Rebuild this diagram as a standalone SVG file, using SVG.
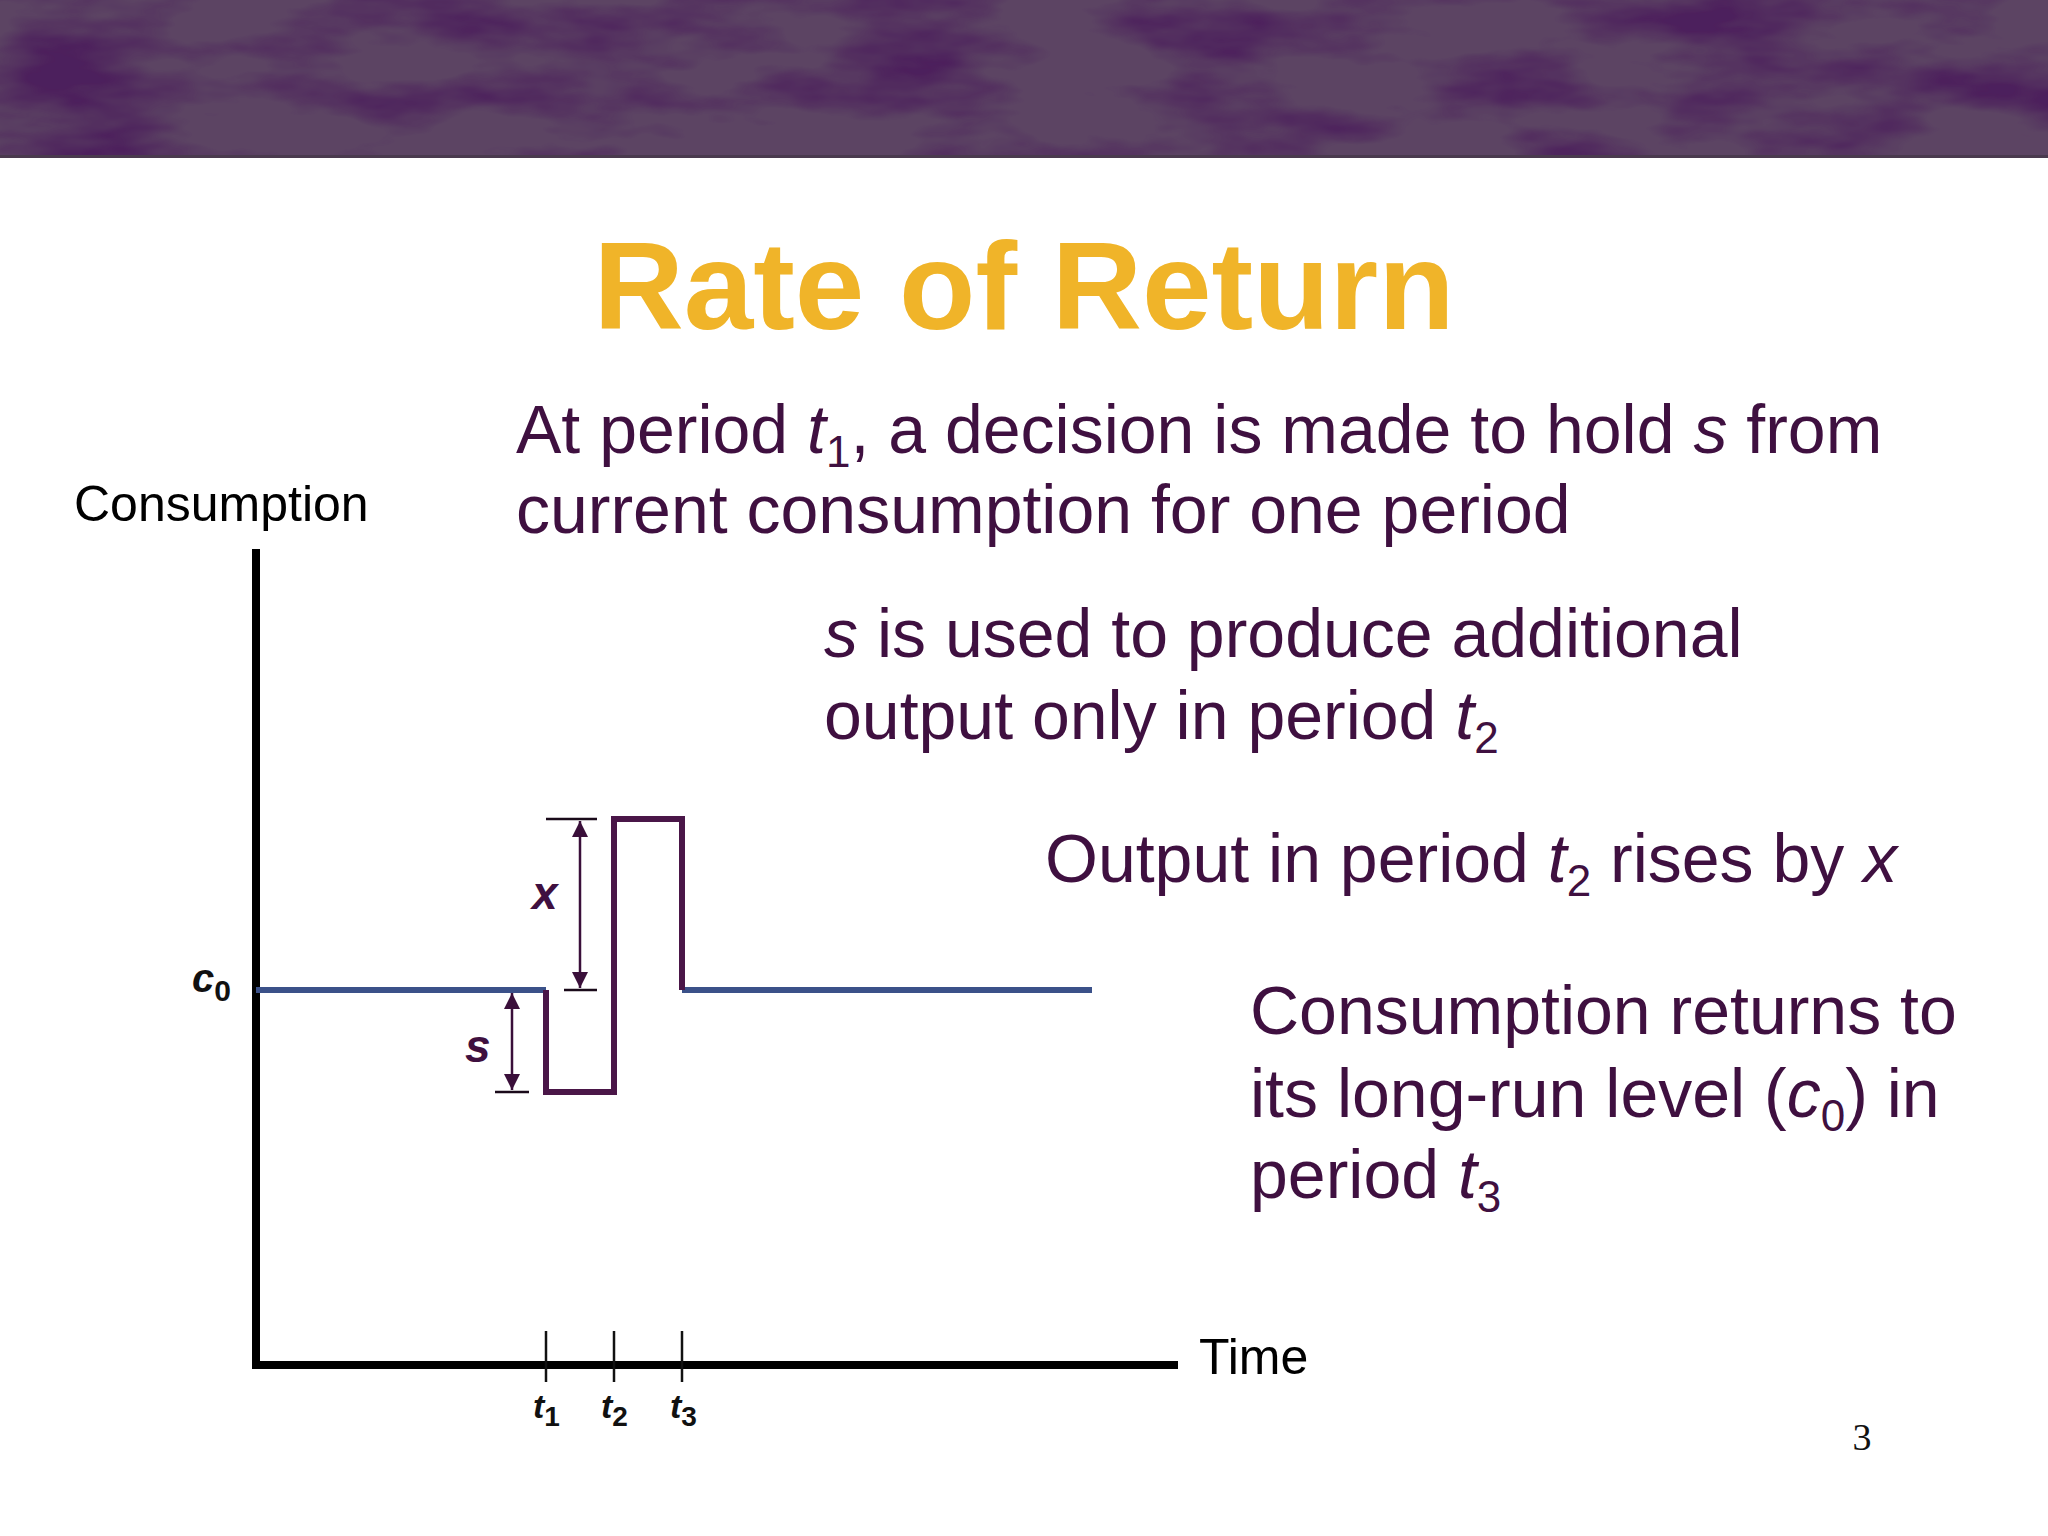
<svg xmlns="http://www.w3.org/2000/svg" width="2048" height="1536" viewBox="0 0 2048 1536">
  <style>
    .body { font-family: "Liberation Sans", Arial, sans-serif; font-size: 68px; fill: #3f1040; }
    .it { font-style: italic; }
    .sub { font-size: 44px; }
    .axislbl { font-family: "Liberation Sans", Arial, sans-serif; font-size: 50px; fill: #000; }
    .tl { font-family: "Liberation Sans", Arial, sans-serif; font-weight: bold; font-style: italic; font-size: 34px; fill: #111; }
    .tsub { font-style: normal; font-size: 28px; }
    .vlbl { font-family: "Liberation Sans", Arial, sans-serif; font-weight: bold; font-style: italic; font-size: 46px; fill: #3f1040; }
    .axis { stroke: #000; stroke-width: 8; fill: none; }
    .tick { stroke: #111; stroke-width: 2.5; fill: none; }
    .base { stroke: #3b5189; stroke-width: 6; fill: none; }
    .curve { stroke: #4a1648; stroke-width: 6; fill: none; stroke-linejoin: miter; }
    .dim { stroke: #3a0f3a; stroke-width: 2.5; fill: none; }
    .dimtick { stroke: #1a0a1a; stroke-width: 2.5; fill: none; }
  </style>
  <defs>
    <marker id="ah" viewBox="0 0 16 20" refX="16" refY="10" markerWidth="16" markerHeight="20" markerUnits="userSpaceOnUse" orient="auto-start-reverse">
      <path d="M0,2 L16,10 L0,18 Z" fill="#3a0f3a"/>
    </marker>
    <filter id="tex" x="0" y="0" width="1" height="1" color-interpolation-filters="sRGB">
      <feTurbulence type="fractalNoise" baseFrequency="0.006 0.018" numOctaves="4" seed="11" result="n"/>
      <feColorMatrix in="n" type="matrix" values="0 0 0 0 0.29  0 0 0 0 0.10  0 0 0 0 0.36  0 0 0 -2.8 1.6"/>
    </filter>
  </defs>

  <rect x="0" y="0" width="2048" height="1536" fill="#ffffff"/>

  <g id="header">
    <rect x="0" y="0" width="2048" height="158" fill="#5c4463"/>
    <rect x="0" y="0" width="2048" height="158" filter="url(#tex)" opacity="0.85"/>
    <rect x="0" y="155" width="2048" height="3" fill="#4a3a4e"/>
  </g>

  <text id="title" x="1024" y="329" text-anchor="middle" font-family="Liberation Sans, Arial, sans-serif" font-weight="bold" font-size="125" fill="#F0B429">Rate of Return</text>

  <g id="text-t1">
    <text class="body" x="516" y="453">At period <tspan class="it">t</tspan><tspan class="sub" dy="14">1</tspan><tspan dy="-14">, a decision is made to hold </tspan><tspan class="it">s</tspan> from</text>
    <text class="body" x="516" y="533">current consumption for one period</text>
  </g>

  <g id="text-s">
    <text class="body" x="824" y="657"><tspan class="it">s</tspan> is used to produce additional</text>
    <text class="body" x="824" y="739">output only in period <tspan class="it">t</tspan><tspan class="sub" dy="14">2</tspan></text>
  </g>

  <g id="text-x">
    <text class="body" x="1045" y="882">Output in period <tspan class="it">t</tspan><tspan class="sub" dy="14">2</tspan><tspan dy="-14"> rises by </tspan><tspan class="it">x</tspan></text>
  </g>

  <g id="text-c0">
    <text class="body" x="1250" y="1034">Consumption returns to</text>
    <text class="body" x="1250" y="1117">its long-run level (<tspan class="it">c</tspan><tspan class="sub" dy="14">0</tspan><tspan dy="-14">) in</tspan></text>
    <text class="body" x="1250" y="1198">period <tspan class="it">t</tspan><tspan class="sub" dy="14">3</tspan></text>
  </g>

  <g id="axes">
    <line class="axis" x1="256" y1="549" x2="256" y2="1369"/>
    <line class="axis" x1="252" y1="1365" x2="1178" y2="1365"/>
    <line class="tick" x1="546" y1="1331" x2="546" y2="1382"/>
    <line class="tick" x1="614" y1="1331" x2="614" y2="1382"/>
    <line class="tick" x1="682" y1="1331" x2="682" y2="1382"/>
    <text class="axislbl" x="74" y="521">Consumption</text>
    <text class="axislbl" x="1199" y="1374">Time</text>
    <text class="tl" x="533" y="1418">t<tspan class="tsub" dy="8">1</tspan></text>
    <text class="tl" x="601" y="1418">t<tspan class="tsub" dy="8">2</tspan></text>
    <text class="tl" x="670" y="1418">t<tspan class="tsub" dy="8">3</tspan></text>
    <text x="192" y="992" font-family="Liberation Sans, Arial, sans-serif" font-weight="bold" font-size="40" fill="#111"><tspan font-style="italic">c</tspan><tspan font-size="30" dy="9">0</tspan></text>
  </g>

  <g id="consumption-path">
    <line class="base" x1="256" y1="990" x2="546" y2="990"/>
    <line class="base" x1="682" y1="990" x2="1092" y2="990"/>
    <path class="curve" d="M546,990 V1092 H614 V819 H682 V990"/>
  </g>

  <g id="connectors">
    <line class="dimtick" x1="546" y1="819" x2="597" y2="819"/>
    <line class="dimtick" x1="564" y1="990" x2="597" y2="990"/>
    <line class="dim" x1="580" y1="821" x2="580" y2="988" marker-start="url(#ah)" marker-end="url(#ah)"/>
    <line class="dimtick" x1="495" y1="1092" x2="529" y2="1092"/>
    <line class="dim" x1="512" y1="993" x2="512" y2="1090" marker-start="url(#ah)" marker-end="url(#ah)"/>
  </g>

  <text id="lbl-x" class="vlbl" x="532" y="909">x</text>
  <text id="lbl-s" class="vlbl" x="465" y="1062">s</text>

  <text id="page" x="1862" y="1450" text-anchor="middle" font-family="Liberation Serif, Times New Roman, serif" font-size="38" fill="#111">3</text>
</svg>
